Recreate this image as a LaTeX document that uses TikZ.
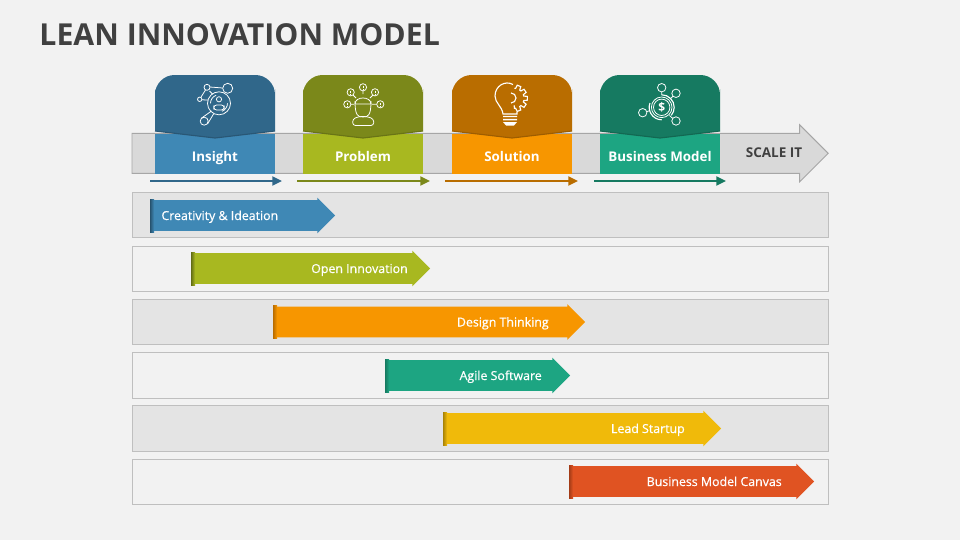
\documentclass[tikz,border=0pt]{standalone}
\usepackage{fontspec}
\setmainfont{Open Sans}
\newfontfamily\barfont[FakeBold=0.6]{Open Sans}
\usetikzlibrary{arrows.meta,shapes.arrows}

\definecolor{pagebg}{HTML}{F2F2F2}
\definecolor{rowgray}{HTML}{E4E4E4}
\definecolor{rowline}{HTML}{BFBFBF}
\definecolor{blueL}{HTML}{3F88B5}
\definecolor{blueD}{HTML}{30678A}
\definecolor{greenL}{HTML}{A8B820}
\definecolor{greenD}{HTML}{7B881A}
\definecolor{orangeL}{HTML}{F79600}
\definecolor{orangeD}{HTML}{B96D00}
\definecolor{tealL}{HTML}{1DA582}
\definecolor{tealD}{HTML}{167A61}
\definecolor{yellowL}{HTML}{F0BA0A}
\definecolor{yellowD}{HTML}{A98305}
\definecolor{redL}{HTML}{E05322}
\definecolor{redD}{HTML}{A33B16}

\tikzset{
  rowbox/.style={draw=rowline, line width=0.7pt, minimum width=17.4cm, minimum height=1.14cm, inner sep=0pt},
  stagebox/.style={minimum width=3cm, minimum height=1cm, inner sep=0pt, text=white, font=\fontsize{9.5pt}{12pt}\selectfont\bfseries, text height=0.4cm, text depth=0.05cm},
  barrow/.style={single arrow, inner sep=0pt, outer sep=0pt, text height=0.75cm, text depth=0pt, single arrow head extend=0.0625cm, anchor=tail},
  barlabel/.style={text=white, inner sep=0pt, font=\fontsize{8.8pt}{10pt}\barfont, anchor=east, text height=0.27cm, text depth=0.045cm},
  steparrow/.style={line width=0.07cm, -{Triangle[length=0.24cm,width=0.22cm]}},
  iconline/.style={draw=white, line width=0.55pt},
}

\begin{document}
\begin{tikzpicture}[x=0.025cm, y=-0.025cm]
    \useasboundingbox (0, 0) rectangle (960, 540);
    \fill[pagebg] (0, 0) rectangle (960, 540);

    \node[anchor=west, inner sep=0pt, text=black!75, font=\fontsize{21.5pt}{26pt}\selectfont\bfseries] (title) at (39.2, 35) {LEAN INNOVATION MODEL};

    % scale arrow
    \node[single arrow, draw=black!35, fill=black!15, line width=0.7pt, inner sep=0pt, outer sep=0pt, text height=0.975cm, text depth=0pt, single arrow head extend=0.2125cm, minimum height=17.4cm, anchor=tail] (scale) at (132, 153.3) {};
    \node[inner sep=0pt, text=black!75, font=\fontsize{9.6pt}{12pt}\selectfont\bfseries] (scaletext) at (774, 152.5) {SCALE IT};

    % stages
    \node[stagebox, fill=blueL] (insight) at (215, 154) {Insight};
    \node[stagebox, fill=greenL] (problem) at (363, 154) {Problem};
    \node[stagebox, fill=orangeL] (solution) at (512, 154) {Solution};
    \node[stagebox, fill=tealL] (business) at (660, 154) {Business Model};

    \fill[blueD] (155, 131) -- (155, 89) [rounded corners=14] -- (155, 75) -- (275, 75) [sharp corners] -- (275, 89) -- (275, 131) -- (215, 138) -- cycle;
    \fill[greenD] (303, 131) -- (303, 89) [rounded corners=14] -- (303, 75) -- (423, 75) [sharp corners] -- (423, 89) -- (423, 131) -- (363, 138) -- cycle;
    \fill[orangeD] (452, 131) -- (452, 89) [rounded corners=14] -- (452, 75) -- (572, 75) [sharp corners] -- (572, 89) -- (572, 131) -- (512, 138) -- cycle;
    \fill[tealD] (600, 131) -- (600, 89) [rounded corners=14] -- (600, 75) -- (720, 75) [sharp corners] -- (720, 89) -- (720, 131) -- (660, 138) -- cycle;

    \draw[blueD!85!black, line width=0.8pt] (155, 131) -- (215, 138) -- (275, 131);
    \draw[greenD!85!black, line width=0.8pt] (303, 131) -- (363, 138) -- (423, 131);
    \draw[orangeD!85!black, line width=0.8pt] (452, 131) -- (512, 138) -- (572, 131);
    \draw[tealD!85!black, line width=0.8pt] (600, 131) -- (660, 138) -- (720, 131);

    % insight icon
    \draw[iconline] (227.7, 88.3) circle (5);
    \draw[iconline] (207, 87.3) circle (3);
    \draw[iconline] (199.7, 99.3) circle (2.2);
    \draw[iconline] (219, 103.3) circle (11.5);
    \draw[iconline] (210.5, 103.3) arc (180:250:8.5) (227.5, 103.3) arc (0:70:8.5);
    \draw[iconline] (219, 99.3) circle (2.6);
    \draw[iconline, rounded corners=2] (213.8, 110) -- (213.8, 105) -- (224.2, 105) -- (224.2, 110) -- cycle;
    \draw[iconline] (210, 87) -- (222.7, 88) (205.5, 90) -- (200.8, 97.4) (201.9, 99.8) -- (208, 100) (209.5, 91) -- (212.5, 94);
    \draw[iconline] (211.5, 111) -- (201, 118.5) (213.5, 114) -- (207.5, 124);
    \draw[iconline] (204.2, 121.2) circle (4);

    % problem icon
    \draw[iconline] (347.3, 104.3) circle (3.6) (350.7, 92.3) circle (3.6) (363, 87.3) circle (3.6) (375, 92.3) circle (3.6) (380.3, 104.3) circle (3.6);
    \draw[iconline] (351, 104.3) -- (354, 104.3) (372, 104.3) -- (376.7, 104.3) (353, 95) -- (356, 98) (373, 95) -- (370, 98) (363, 91) -- (363, 94);
    \draw[iconline] (355, 101) .. controls (355, 116) and (358, 117) .. (363, 117) .. controls (368, 117) and (371, 116) .. (371, 101);
    \draw[iconline] (355, 104) .. controls (355, 96) and (371, 96) .. (371, 104) .. controls (365, 104) and (360, 104) .. (355, 104);
    \draw[iconline, rounded corners=2] (352.7, 125.5) -- (352.7, 119) -- (359, 116.5) -- (367, 116.5) -- (373.7, 119) -- (373.7, 125.5) -- cycle;
    \foreach \xx/\yy in {347.3/104.3, 350.7/92.3, 363/87.3, 375/92.3, 380.3/104.3}
      \draw[iconline] (\xx, \yy-1.8) -- (\xx, \yy+0.5) (\xx, \yy+1.2) -- (\xx, \yy+1.9);

    % solution icon
    \draw[iconline, line width=0.8pt] (513, 84.5) .. controls (505, 80) and (495, 86) .. (495, 96) .. controls (495, 103) and (502, 106) .. (503, 114) -- (517, 114) -- (517, 111.5);
    \draw[iconline, line width=0.8pt, shift={(514, 98.3)}] (-88:10) \foreach \a in {-68,-34,0,34,68} { -- (\a-13:10) -- (\a-8:13.5) -- (\a+8:13.5) -- (\a+13:10) } -- (88:10) -- (88:7);
    \draw[iconline, line width=0.8pt] (511, 93) arc (-90:90:5);
    \fill[white] (503, 115.8) rectangle (517, 117.2) (503, 118.9) rectangle (517, 120.3) (503, 122) -- (517, 122) -- (514, 125.5) -- (506, 125.5) -- cycle;

    % business model icon
    \draw[iconline] (661.7, 107.3) circle (8.2);
    \draw[iconline, line width=0.8pt] (661.7, 94.8) arc (-90:40:12.5) (661.7, 119.8) arc (90:200:12.5);
    \draw[iconline] (661.7, 107.3) circle (10.3);
    \node[inner sep=0pt, text=white, font=\fontsize{8.5pt}{10pt}\selectfont\bfseries] (dollar) at (661.7, 107.3) {\$};
    \draw[iconline] (661.7, 87.7) circle (4.2) (676, 93.3) circle (4.2) (642.7, 112.7) circle (4.2) (676, 121) circle (4.2);
    \draw[iconline] (661.7, 91.9) -- (661.7, 95) (673, 96.3) -- (670, 99) (646.8, 111.6) -- (650, 110.5) (672.7, 118.4) -- (669.5, 115.5);

    % step arrows
    \coordinate (s1) at (150, 181);
    \coordinate (e1) at (282, 181);
    \coordinate (s2) at (297, 181);
    \coordinate (e2) at (430, 181);
    \coordinate (s3) at (445, 181);
    \coordinate (e3) at (578, 181);
    \coordinate (s4) at (594, 181);
    \coordinate (e4) at (726, 181);
    \draw[steparrow, blueD] (s1) -- (e1);
    \draw[steparrow, greenD] (s2) -- (e2);
    \draw[steparrow, orangeD] (s3) -- (e3);
    \draw[steparrow, tealD] (s4) -- (e4);

    % rows
    \node[rowbox, fill=rowgray] (row1) at (480.5, 215) {};
    \node[rowbox] (row2) at (480.5, 269) {};
    \node[rowbox, fill=rowgray] (row3) at (480.5, 322) {};
    \node[rowbox] (row4) at (480.5, 375.5) {};
    \node[rowbox, fill=rowgray] (row5) at (480.5, 428.5) {};
    \node[rowbox] (row6) at (480.5, 482) {};

    % bars
    \node[barrow, fill=blueL, minimum height=4.625cm] (creativity) at (150, 215.5) {};
    \node[barrow, fill=greenL, minimum height=5.975cm] (open) at (191, 268.5) {};
    \node[barrow, fill=orangeL, minimum height=7.8cm] (design) at (273, 322) {};
    \node[barrow, fill=tealL, minimum height=4.625cm] (agile) at (385, 375.5) {};
    \node[barrow, fill=yellowL, minimum height=6.95cm] (lead) at (443, 428.5) {};
    \node[barrow, fill=redL, minimum height=6.125cm] (canvas) at (569, 481.5) {};

    \shade[left color=blueD!80!black, right color=blueL] (150, 199) rectangle (154, 232);
    \shade[left color=greenD!80!black, right color=greenL] (191, 252) rectangle (195, 285);
    \shade[left color=orangeD, right color=orangeL] (273, 305.5) rectangle (277, 338.5);
    \shade[left color=tealD, right color=tealL] (385, 359) rectangle (389, 392);
    \shade[left color=yellowD, right color=yellowL] (443, 412) rectangle (447, 445);
    \shade[left color=redD, right color=redL] (569, 465) rectangle (573, 498);

    \node[barlabel] (creativitytext) at (278.5, 215.5) {Creativity \& Ideation};
    \node[barlabel] (opentext) at (408, 268.5) {Open Innovation};
    \node[barlabel] (designtext) at (549, 322) {Design Thinking};
    \node[barlabel] (agiletext) at (542, 375.5) {Agile Software};
    \node[barlabel] (leadtext) at (685, 428.5) {Lead Startup};
    \node[barlabel] (canvastext) at (782, 481.5) {Business Model Canvas};
\end{tikzpicture}
\end{document}
